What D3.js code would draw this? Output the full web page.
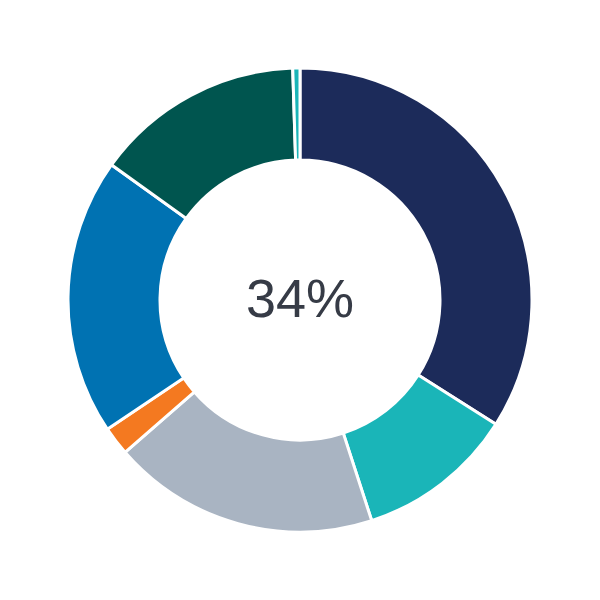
<!DOCTYPE html>
<html><head><meta charset="utf-8">
<script src="https://cdn.jsdelivr.net/npm/d3@7"></script>
<style>html,body{margin:0;padding:0;background:#fff;}</style>
</head><body>
<svg id="chart" width="600" height="600"></svg>
<script>
const categories = ["A","B","C","D","E","F","G"];
const values = [34, 11, 18.6, 2, 19.3, 14.6, 0.5];
const colors = ["#1c2b5a","#1ab5b8","#a9b4c2","#f47920","#0072b2","#00554f","#1ab5b8"];
const centerLabel = "34%";

const svg = d3.select("#chart");
const g = svg.append("g").attr("transform","translate(300,300)");
const pie = d3.pie().sort(null).value(d=>d.v);
const arc = d3.arc().innerRadius(140).outerRadius(232);
const data = categories.map((c,i)=>({c, v: values[i], col: colors[i]}));
g.selectAll("path").data(pie(data)).join("path")
  .attr("d", arc)
  .attr("fill", d=>d.data.col)
  .attr("stroke","#fff")
  .attr("stroke-width",3);
g.append("text").attr("text-anchor","middle").attr("y",17)
  .attr("font-family","'Liberation Sans', Arial, sans-serif")
  .attr("font-size",54).attr("fill","#363b46").text(centerLabel);
</script>
</body></html>
